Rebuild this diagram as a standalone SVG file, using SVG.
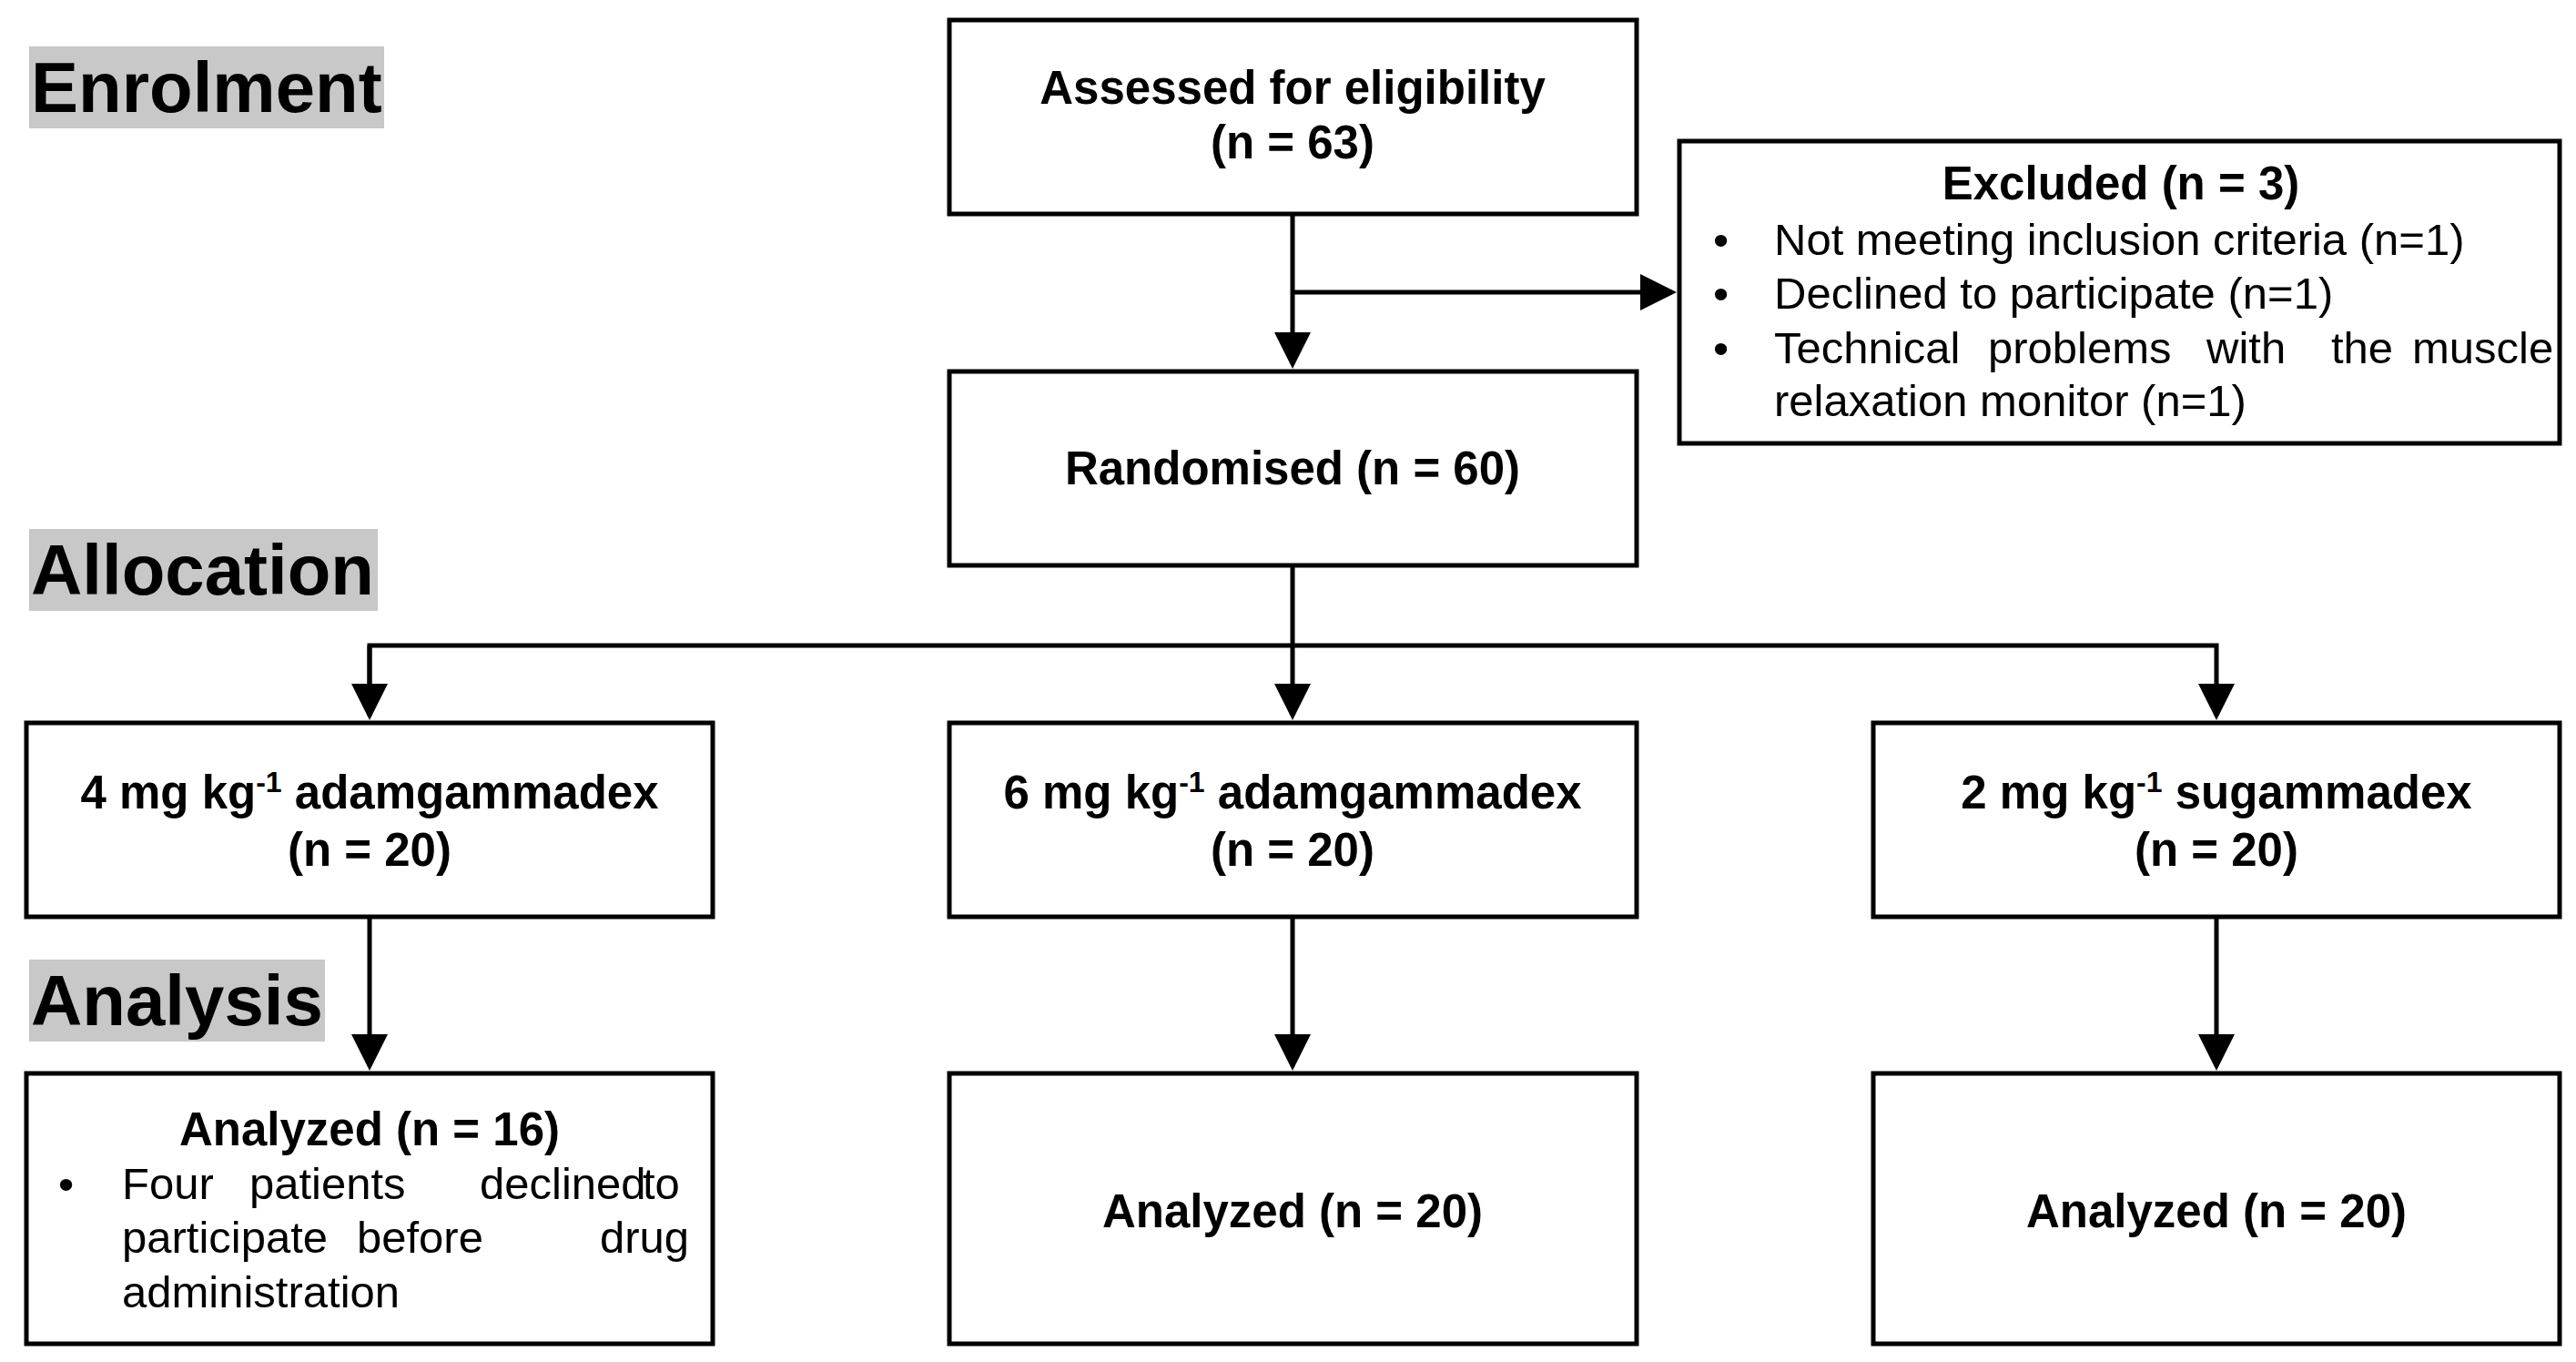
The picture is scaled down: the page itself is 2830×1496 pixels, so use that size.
<svg xmlns="http://www.w3.org/2000/svg" width="2830" height="1496" viewBox="0 0 2830 1496">
<style>
.box{fill:#fff;stroke:#000;stroke-width:5}
text{font-family:"Liberation Sans",Arial,sans-serif;font-size:49px;fill:#000}
.b{font-weight:bold;text-anchor:middle;font-size:51px}
.lab{font-weight:bold;font-size:78px}
.c{stroke:#000;stroke-width:5;fill:none}
.sup{font-size:32px}
</style>
<defs><marker id="ah" markerWidth="8" markerHeight="8" refX="7" refY="4" orient="auto" markerUnits="strokeWidth"><path d="M0,0 L8,4 L0,8 Z" fill="#000"/></marker></defs>
<g id="labels">
<rect x="32" y="51" width="390" height="90" fill="#c8c8c8"/><text class="lab" x="34" y="123">Enrolment</text>
<rect x="32" y="581" width="383" height="90" fill="#c8c8c8"/><text class="lab" x="34" y="653">Allocation</text>
<rect x="32" y="1054" width="325" height="90" fill="#c8c8c8"/><text class="lab" x="34" y="1126">Analysis</text>
</g>
<g id="connectors">
<path class="c" d="M1420,235 V400" marker-end="url(#ah)"/>
<path class="c" d="M1420,321 H1837" marker-end="url(#ah)"/>
<path class="c" d="M1420,621 V786" marker-end="url(#ah)"/>
<path class="c" d="M406,786 V709 H2435 V786" marker-end="url(#ah)"/>
<path class="c" d="M406,709 V786" marker-end="url(#ah)"/>
<path class="c" d="M406,1007 V1171" marker-end="url(#ah)"/>
<path class="c" d="M1420,1007 V1171" marker-end="url(#ah)"/>
<path class="c" d="M2435,1007 V1171" marker-end="url(#ah)"/>
</g>
<g id="assessed"><rect class="box" x="1043" y="22" width="755" height="213"/>
<text class="b" x="1420" y="114">Assessed for eligibility</text><text class="b" x="1420" y="174">(n = 63)</text></g>
<g id="excluded"><rect class="box" x="1845" y="155" width="967" height="332"/>
<text class="b" x="2330" y="219">Excluded (n = 3)</text>
<text x="1882" y="280">•</text><text x="1949" y="280">Not meeting inclusion criteria (n=1)</text>
<text x="1882" y="339">•</text><text x="1949" y="339">Declined to participate (n=1)</text>
<text x="1882" y="399">•</text><text y="399"><tspan x="1949">Technical</tspan><tspan x="2184">problems</tspan><tspan x="2424">with</tspan><tspan x="2561">the</tspan><tspan x="2650">muscle</tspan></text>
<text x="1949" y="457">relaxation monitor (n=1)</text></g>
<g id="randomised"><rect class="box" x="1043" y="408" width="755" height="213"/>
<text class="b" x="1420" y="532">Randomised (n = 60)</text></g>
<g id="g4"><rect class="box" x="29" y="794" width="754" height="213"/>
<text class="b" x="406" y="888">4 mg kg<tspan class="sup" dy="-18">-1</tspan><tspan dy="18"> adamgammadex</tspan></text><text class="b" x="406" y="951">(n = 20)</text></g>
<g id="g6"><rect class="box" x="1043" y="794" width="755" height="213"/>
<text class="b" x="1420" y="888">6 mg kg<tspan class="sup" dy="-18">-1</tspan><tspan dy="18"> adamgammadex</tspan></text><text class="b" x="1420" y="951">(n = 20)</text></g>
<g id="g2"><rect class="box" x="2058" y="794" width="754" height="213"/>
<text class="b" x="2435" y="888">2 mg kg<tspan class="sup" dy="-18">-1</tspan><tspan dy="18"> sugammadex</tspan></text><text class="b" x="2435" y="951">(n = 20)</text></g>
<g id="a4"><rect class="box" x="29" y="1179" width="754" height="297"/>
<text class="b" x="406" y="1258">Analyzed (n = 16)</text>
<text x="64" y="1317">•</text><text y="1317"><tspan x="134">Four</tspan><tspan x="274">patients</tspan><tspan x="527">declined</tspan><tspan x="706">to</tspan></text>
<text y="1376"><tspan x="134">participate</tspan><tspan x="392">before</tspan><tspan x="659">drug</tspan></text>
<text x="134" y="1436">administration</text></g>
<g id="a6"><rect class="box" x="1043" y="1179" width="755" height="297"/>
<text class="b" x="1420" y="1348">Analyzed (n = 20)</text></g>
<g id="a2"><rect class="box" x="2058" y="1179" width="754" height="297"/>
<text class="b" x="2435" y="1348">Analyzed (n = 20)</text></g>
</svg>
